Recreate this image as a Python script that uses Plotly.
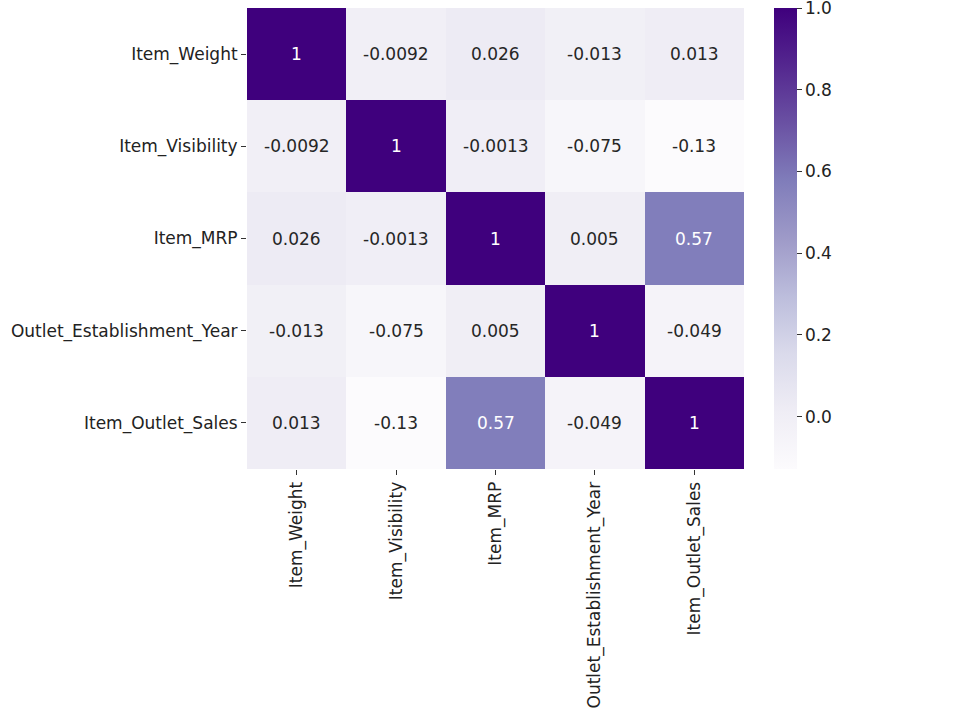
import plotly.graph_objects as go

labels = ["Item_Weight", "Item_Visibility", "Item_MRP",
          "Outlet_Establishment_Year", "Item_Outlet_Sales"]
corr = [
    [1, -0.0092, 0.026, -0.013, 0.013],
    [-0.0092, 1, -0.0013, -0.075, -0.13],
    [0.026, -0.0013, 1, 0.005, 0.57],
    [-0.013, -0.075, 0.005, 1, -0.049],
    [0.013, -0.13, 0.57, -0.049, 1],
]
cbar_ticks = [0.0, 0.2, 0.4, 0.6, 0.8, 1.0]

purples = ["#fcfbfd", "#efedf5", "#dadaeb", "#bcbddc", "#9e9ac8",
           "#807dba", "#6a51a3", "#54278f", "#3f007d"]
colorscale = [[i / (len(purples) - 1), c] for i, c in enumerate(purples)]

zmin, zmax = -0.128, 1.0
W, H = 979, 717
L, T = 247, 8
pw, ph = 497, 461
R = W - L - pw
B = H - T - ph
FS = 17

fig = go.Figure(go.Heatmap(
    z=corr, x=labels, y=labels, colorscale=colorscale,
    zmin=zmin, zmax=zmax, showscale=True, xgap=0, ygap=0,
    colorbar=dict(
        x=(774 - L) / pw, xanchor="left", xref="paper", xpad=0, ypad=0,
        y=0, yanchor="bottom", len=1, lenmode="fraction",
        thickness=23, outlinewidth=0,
        tickvals=cbar_ticks, ticktext=[f"{v:.1f}" for v in cbar_ticks],
        ticks="outside", ticklen=5, tickcolor="#333",
        ticklabeloverflow="allow",
        tickfont=dict(family="DejaVu Sans", size=FS, color="#222"),
    ),
    hoverinfo="skip",
))

for i, row in enumerate(corr):
    for j, v in enumerate(row):
        norm = (v - zmin) / (zmax - zmin)
        col = "white" if norm > 0.55 else "#262626"
        fig.add_annotation(x=labels[j], y=labels[i], text=f"{v:g}",
                           showarrow=False,
                           font=dict(family="DejaVu Sans", size=FS, color=col))

fig.update_layout(
    width=W, height=H,
    margin=dict(l=L, r=R, t=T, b=B, pad=0),
    paper_bgcolor="white", plot_bgcolor="white",
    font=dict(family="DejaVu Sans", size=FS, color="#222"),
    xaxis=dict(tickangle=-90, ticks="outside", ticklen=5, tickcolor="#333",
               showgrid=False, zeroline=False, showline=False),
    yaxis=dict(autorange="reversed", ticks="outside", ticklen=5, tickcolor="#333",
               showgrid=False, zeroline=False, showline=False),
)

fig.write_html("out.html",
               config={"displayModeBar": False},
               post_script="document.body.style.margin='0';document.body.style.overflow='hidden';")
